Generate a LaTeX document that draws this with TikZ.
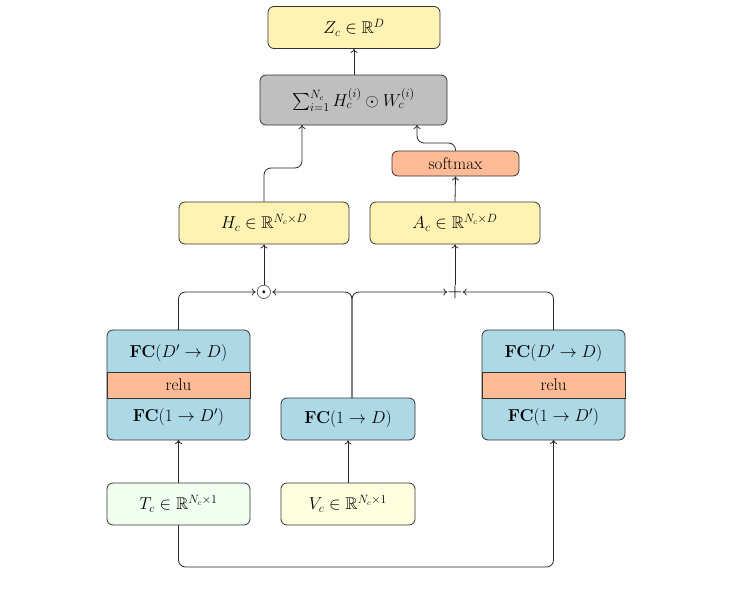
\documentclass[tikz,border=0pt]{standalone}
\usepackage{amssymb}
\usetikzlibrary{arrows.meta}
\definecolor{cyel}{HTML}{FFF2B3}
\definecolor{cgray}{HTML}{BFBFBF}
\definecolor{csal}{HTML}{FFBB96}
\definecolor{cblue}{HTML}{ADD8E6}
\definecolor{cgreen}{HTML}{F0FFF0}
\definecolor{cly}{HTML}{FFFFE0}
\begin{document}
\begin{tikzpicture}[x=1pt,y=-1pt,
  box/.style={draw=black!80,rounded corners=6pt,minimum height=#1,inner sep=0pt,line width=0.8pt,font=\fontsize{17}{20}\selectfont},
  box/.default=42pt,
  stackbox/.style={draw=black!80,fill=cblue,rounded corners=6pt,line width=0.8pt},
  reluband/.style={draw=black!80,fill=csal,line width=0.8pt},
  txt/.style={font=\fontsize{17}{20}\selectfont},
  conn/.style={draw=black!85,line width=0.8pt,rounded corners=7pt,-{To[length=4pt,width=7pt]}}]
\useasboundingbox (0,0) rectangle (735,602);
\node[box,fill=cyel,minimum width=172pt] (Z) at (354,27.5) {$Z_c\in\mathbb{R}^{D}$};
\node[box=50pt,fill=cgray,minimum width=187pt] (S) at (353.5,100) {$\sum_{i=1}^{N_c} H_c^{(i)}\odot W_c^{(i)}$};
\node[box=25pt,fill=csal,minimum width=127pt] (sm) at (455.5,163.5) {softmax};
\node[box,fill=cyel,minimum width=170pt] (H) at (264,223) {$H_c\in\mathbb{R}^{N_c\times D}$};
\node[box,fill=cyel,minimum width=170pt] (A) at (455,223) {$A_c\in\mathbb{R}^{N_c\times D}$};
\node[inner sep=0pt,font=\fontsize{20}{20}\selectfont] (od) at (264,292) {$\odot$};
\node[inner sep=0pt,font=\fontsize{20}{20}\selectfont] (pl) at (455,292) {$+$};
% left stack
\path[stackbox] (107,330) rectangle (250,440);
\path[reluband] (107,372) rectangle (250,398);
\node[txt] (Ltop) at (178.5,353) {$\mathbf{FC}(D'\rightarrow D)$};
\node[txt] (Lrelu) at (178.5,385) {relu};
\node[txt] (Lbot) at (178.5,417) {$\mathbf{FC}(1\rightarrow D')$};
\coordinate (Lin) at (178.5,440);
\coordinate (Lout) at (178.5,330);
% right stack
\path[stackbox] (482,330) rectangle (625,440);
\path[reluband] (482,372) rectangle (625,398);
\node[txt] (Rtop) at (553.5,353) {$\mathbf{FC}(D'\rightarrow D)$};
\node[txt] (Rrelu) at (553.5,385) {relu};
\node[txt] (Rbot) at (553.5,417) {$\mathbf{FC}(1\rightarrow D')$};
\coordinate (Rin) at (553.5,440);
\coordinate (Rout) at (553.5,330);
\node[box,fill=cblue,minimum width=134pt] (M) at (348,419) {$\mathbf{FC}(1\rightarrow D)$};
\node[box,fill=cgreen,minimum width=143pt] (T) at (178.5,504) {$T_c\in\mathbb{R}^{N_c\times 1}$};
\node[box,fill=cly,minimum width=134pt] (V) at (348,504) {$V_c\in\mathbb{R}^{N_c\times 1}$};
\coordinate (Mtop) at (352,398);
\coordinate (sumL) at (302,125);
\coordinate (sumR) at (417,125);
\coordinate (loopR) at (553.5,567);
\draw[conn] (S.north -| Z) -- (Z.south);
\draw[conn] (H.north) |- (302,168) -- (sumL);
\draw[conn] (sm.north) |- (417,143) -- (sumR);
\draw[conn] (A.north) -- (sm.south);
\draw[conn] (od.north) -- (H.south);
\draw[conn] (pl.north) -- (A.south);
\draw[conn] (T.north) -- (Lin);
\draw[conn] (V.north) -- (M.south);
\draw[conn] (Lout) |- (od.west);
\draw[conn] (Rout) |- (pl.east);
\draw[conn] (Mtop) |- (od.east);
\draw[conn] (Mtop) |- (pl.west);
\draw[conn] (T.south) |- (loopR) -- (Rin);
\end{tikzpicture}
\end{document}
